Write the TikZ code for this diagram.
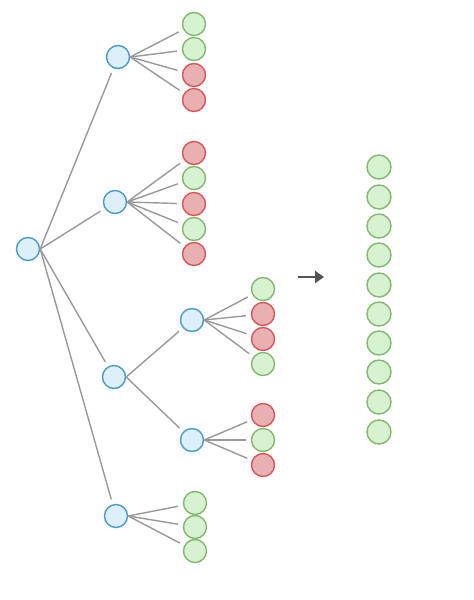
\documentclass[tikz,border=0pt]{standalone}
\usepackage{tikz}
\usetikzlibrary{arrows.meta,positioning}

\begin{document}
\begin{tikzpicture}[x=1pt,y=-1pt]
  % Colors
  \definecolor{bluefill}{HTML}{DDF0F9}
  \definecolor{blueline}{HTML}{4A9CC8}
  \definecolor{greenfill}{HTML}{D7F2D0}
  \definecolor{greenline}{HTML}{82B86F}
  \definecolor{redfill}{HTML}{E8B0B0}
  \definecolor{redline}{HTML}{D8555A}
  \definecolor{edgecolor}{HTML}{999999}
  \definecolor{arrowcolor}{HTML}{555555}

  % Styles
  \tikzstyle{inner}=[circle,draw=blueline,fill=bluefill,line width=1.4pt,minimum size=23pt,inner sep=0pt]
  \tikzstyle{good}=[circle,draw=greenline,fill=greenfill,line width=1.4pt,minimum size=23pt,inner sep=0pt]
  \tikzstyle{bad}=[circle,draw=redline,fill=redfill,line width=1.4pt,minimum size=23pt,inner sep=0pt]
  \tikzstyle{edge}=[draw=edgecolor,line width=1.4pt,shorten >=5pt]

  \useasboundingbox (0,0) rectangle (474,600);

  % The tree
  \node[inner] (root) at (28,249) {};
  \node[inner] (a1) at (118,57) {};
  \node[inner] (a2) at (115,202) {};
  \node[inner] (a3) at (114,377) {};
  \node[inner] (a4) at (116,516) {};
  \node[inner] (b1) at (192,320) {};
  \node[inner] (b2) at (192,440) {};

  \foreach \n in {a1,a2,a3,a4}
    \draw[edge] (root.east) -- (\n);
  \foreach \n in {b1,b2}
    \draw[edge] (a3.east) -- (\n);

  \foreach \y/\s [count=\i] in {24/good,49/good,75/bad,100/bad} {
    \node[\s] (la\i) at (194,\y) {};
    \draw[edge] (a1.east) -- (la\i);
  }
  \foreach \y/\s [count=\i] in {153/bad,178/good,204/bad,229/good,254/bad} {
    \node[\s] (lb\i) at (194,\y) {};
    \draw[edge] (a2.east) -- (lb\i);
  }
  \foreach \y/\s [count=\i] in {289/good,314/bad,339/bad,364/good} {
    \node[\s] (lc\i) at (263,\y) {};
    \draw[edge] (b1.east) -- (lc\i);
  }
  \foreach \y/\s [count=\i] in {415/bad,440/good,465/bad} {
    \node[\s] (ld\i) at (263,\y) {};
    \draw[edge] (b2.east) -- (ld\i);
  }
  \foreach \y [count=\i] in {503,527,551} {
    \node[good] (le\i) at (195,\y) {};
    \draw[edge] (a4.east) -- (le\i);
  }

  % Arrow
  \coordinate (arrowfrom) at (298,277);
  \coordinate (arrowto) at (324,277);
  \draw[-{Triangle[length=9pt,width=12pt]},draw=arrowcolor,fill=arrowcolor,line width=2.5pt] (arrowfrom) -- (arrowto);

  % Result column
  \foreach \y [count=\i] in {167,197,226,255,285,314,343,372,402,432}
    \node[good,minimum size=24pt] (r\i) at (379,\y) {};
\end{tikzpicture}
\end{document}
